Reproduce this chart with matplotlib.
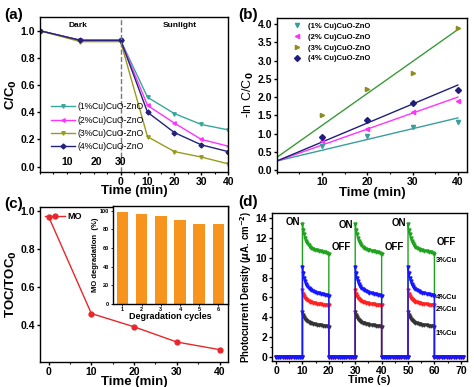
import numpy as np
import matplotlib
matplotlib.use('Agg')
import matplotlib.pyplot as plt

plt.rcParams['font.family'] = ['Liberation Sans', 'DejaVu Sans']
plt.rcParams['font.weight'] = 'bold'
plt.rcParams['axes.labelweight'] = 'bold'
plt.rcParams['axes.linewidth'] = 1.0

# ---- (a) C/C0 vs time ----
a_time_dark = [-30, -15, 0]
a_time_sun = [0, 10, 20, 30, 40]
a_labels = ['(1%Cu)CuO-ZnO', '(2%Cu)CuO-ZnO', '(3%Cu)CuO-ZnO', '(4%Cu)CuO-ZnO']
a_dark = [[1.0, 0.93, 0.93], [1.0, 0.93, 0.93], [1.0, 0.92, 0.92], [1.0, 0.93, 0.93]]
a_sun = [[0.93, 0.51, 0.39, 0.31, 0.27],
         [0.93, 0.45, 0.32, 0.20, 0.15],
         [0.92, 0.22, 0.11, 0.07, 0.02],
         [0.93, 0.40, 0.25, 0.16, 0.11]]
a_colors = ['#36a89c', '#ff33ff', '#9a9a1e', '#22227a']
a_markers = ['v', '<', 'v', 'D']

# ---- (b) -ln(C/C0) kinetics ----
b_time = [10, 20, 30, 40]
b_labels = ['(1% Cu)CuO-ZnO', '(2% Cu)CuO-ZnO', '(3% Cu)CuO-ZnO', '(4% Cu)CuO-ZnO']
b_vals = [[0.67, 0.93, 1.17, 1.31],
          [0.79, 1.13, 1.60, 1.89],
          [1.51, 2.21, 2.66, 3.90],
          [0.92, 1.38, 1.83, 2.20]]
b_fit_x = [0, 40]
b_fit_y = [[0.25, 1.43], [0.25, 2.00], [0.35, 3.85], [0.25, 2.33]]
b_mcolors = ['#3a9e9e', '#ff33ff', '#8c8c1e', '#1f1f7a']
b_lcolors = ['#3a9e9e', '#ff33ff', '#3a9a3a', '#1f1f7a']
b_markers = ['v', '<', '>', 'D']

# ---- (c) TOC and recycling inset ----
c_time = [0, 10, 20, 30, 40]
c_toc = [0.97, 0.46, 0.39, 0.31, 0.27]
c_cycles = [1, 2, 3, 4, 5, 6]
c_degr = [99, 96, 94, 90, 86, 86]

# ---- (d) photocurrent ----
d_labels = ['3%Cu', '4%Cu', '2%Cu', '1%Cu']
d_colors = ['#1fa31f', '#1515ff', '#ff2020', '#333333']
d_on_offsets = [0, 0.3, 0.6, 1.0, 1.4, 1.8, 2.3, 2.8, 3.4, 4.0, 4.7, 5.4, 6.2, 7.0, 7.8, 8.6, 9.4, 10.0]
d_on = [
    [13.4, 12.8, 12.4, 12.0, 11.7, 11.5, 11.3, 11.1, 11.0, 10.9, 10.8, 10.75, 10.7, 10.65, 10.6, 10.55, 10.5, 10.4],
    [9.1, 8.5, 8.0, 7.6, 7.3, 7.1, 6.9, 6.8, 6.7, 6.6, 6.5, 6.45, 6.4, 6.35, 6.3, 6.25, 6.2, 6.1],
    [6.7, 6.3, 6.1, 5.9, 5.8, 5.7, 5.6, 5.55, 5.5, 5.45, 5.4, 5.37, 5.34, 5.3, 5.28, 5.26, 5.23, 5.2],
    [4.5, 4.2, 4.0, 3.85, 3.7, 3.6, 3.5, 3.45, 3.4, 3.35, 3.3, 3.27, 3.24, 3.2, 3.17, 3.14, 3.1, 3.05],
]
d_on_starts = [10, 30, 50]
d_off_spans = [(0, 10), (20, 30), (40, 50), (60, 71)]

fig = plt.figure(figsize=(4.74, 3.87), dpi=100)

tick_fs = 7.5
lab_fs = 9.5

def style(ax):
    ax.tick_params(labelsize=tick_fs, width=1.0, length=2.5, pad=1)
    ax.tick_params(which='minor', length=1.5, width=0.8)
    for t in ax.get_xticklabels() + ax.get_yticklabels():
        t.set_fontweight('bold')

# (a)
ax = fig.add_axes([0.0844, 0.5556, 0.397, 0.400])
for i in range(4):
    ax.plot(a_time_dark, a_dark[i], color=a_colors[i], marker=a_markers[i], ms=2.5, lw=1.0)
    ax.plot(a_time_sun, a_sun[i], color=a_colors[i], marker=a_markers[i], ms=2.5, lw=1.0,
            label=a_labels[i])
ax.axvline(0, color='#777777', ls='--', lw=1.0)
ax.set_xlim(-30, 40)
ax.set_ylim(-0.04, 1.1)
ax.set_xticks([0, 10, 20, 30, 40])
ax.set_xticks(np.arange(-30, 41, 5), minor=True)
ax.set_yticks([0.0, 0.2, 0.4, 0.6, 0.8, 1.0])
ax.set_yticklabels(['0.0', '0.2', '0.4', '0.6', '0.8', '1.0'])
ax.set_xlabel('Time (min)', fontsize=lab_fs, labelpad=-1)
ax.set_ylabel('C/C$_\\mathbf{0}$', fontsize=lab_fs, labelpad=1)
style(ax)
ax.legend(loc='lower left', bbox_to_anchor=(0.03, 0.1), frameon=False,
          prop={'size': 6.2, 'weight': 'normal'}, handlelength=2.8, handletextpad=0.3,
          labelspacing=0.5, borderaxespad=0.2)
for xv, s in zip([-20, -9, 0], ['10', '20', '30']):
    ax.text(xv, 0.035, s, ha='center', va='center', fontsize=tick_fs, fontweight='bold')
ax.text(-16, 1.04, 'Dark', ha='center', va='center', fontsize=6, fontweight='bold')
ax.text(22, 1.04, 'Sunlight', ha='center', va='center', fontsize=6, fontweight='bold')

# (b)
ax = fig.add_axes([0.584, 0.5556, 0.401, 0.3974])
for i in range(4):
    ax.plot(b_fit_x, b_fit_y[i], color=b_lcolors[i], lw=1.0)
for i in range(4):
    ax.plot(b_time, b_vals[i], ls='none', marker=b_markers[i], ms=3,
            color=b_mcolors[i], label=b_labels[i])
ax.set_xlim(0, 42)
ax.set_ylim(-0.05, 4.16)
ax.set_xticks([10, 20, 30, 40])
ax.set_xticks(np.arange(0, 42, 5), minor=True)
ax.set_yticks(np.arange(0, 4.01, 0.5))
ax.set_yticklabels(['%.1f' % v for v in np.arange(0, 4.01, 0.5)])
ax.set_xlabel('Time (min)', fontsize=lab_fs, labelpad=0)
ax.set_ylabel('-ln C/C$_0$', fontsize=lab_fs - 0.5, labelpad=1, fontweight='normal')
style(ax)
ax.legend(loc='upper left', frameon=False, prop={'size': 5.5, 'weight': 'bold'},
          handlelength=1.5, handletextpad=0.8, labelspacing=0.45,
          borderaxespad=0.2, bbox_to_anchor=(0.05, 1.0))

# (c)
ax = fig.add_axes([0.0844, 0.0646, 0.397, 0.4005])
ax.plot(c_time, c_toc, color='#e8272b', marker='o', ms=3.5, lw=1.0, label='MO')
ax.set_xlim(-2, 42)
ax.set_ylim(0.205, 1.02)
ax.set_xticks([0, 10, 20, 30, 40])
ax.set_xticks(np.arange(0, 41, 5), minor=True)
ax.set_yticks([0.4, 0.6, 0.8, 1.0])
ax.set_yticklabels(['0.4', '0.6', '0.8', '1.0'])
ax.set_xlabel('Time (min)', fontsize=lab_fs, labelpad=-0.5)
ax.set_ylabel('TOC/TOC$_\\mathbf{0}$', fontsize=lab_fs, labelpad=1)
style(ax)
ax.legend(loc='upper left', frameon=False, prop={'size': 6.5, 'weight': 'bold'},
          handlelength=2.2, handletextpad=0.3, borderaxespad=0.15)

ins = fig.add_axes([0.238, 0.2145, 0.243, 0.2532])
ins.bar(c_cycles, c_degr, width=0.6, color='#f7941d')
ins.set_xlim(0.5, 6.5)
ins.set_ylim(0, 105)
ins.set_xticks(c_cycles)
ins.set_yticks([0, 20, 40, 60, 80, 100])
ins.tick_params(labelsize=4, length=1.5, width=0.6, pad=1)
ins.set_xlabel('Degradation cycles', fontsize=6.5, labelpad=0)
ins.set_ylabel('MO degradation  (%)', fontsize=5.5, labelpad=1)

# (d)
ax = fig.add_axes([0.574, 0.067, 0.411, 0.383])
order = [0, 3, 2, 1]
for i in order:
    ts, ys = [], []
    for k, (t0, t1) in enumerate(d_off_spans):
        tt = np.linspace(t0, t1, 13)
        ts += list(tt)
        ys += [0.0] * len(tt)
        if k < len(d_on_starts):
            s = d_on_starts[k]
            ts += [s + o for o in d_on_offsets]
            ys += d_on[i]
    ax.plot(ts, ys, color=d_colors[i], marker='v', ms=2.2, lw=1.0, zorder=3 + (i == 1))
ax.set_xlim(-1.5, 72.3)
ax.set_ylim(-0.4, 14.5)
ax.set_xticks(np.arange(0, 71, 10))
ax.set_xticks(np.arange(0, 71, 5), minor=True)
ax.set_yticks(np.arange(0, 15, 2))
ax.set_yticks(np.arange(0, 15, 1), minor=True)
ax.set_xlabel('Time (s)', fontsize=8, labelpad=-0.5)
ax.set_ylabel('Photocurrent Density ($\\mu$A. cm$^{-2}$)', fontsize=6.9, labelpad=1)
style(ax)
for x0, y0 in [(9.3, 13.6), (29.3, 13.3), (49.3, 13.5)]:
    ax.text(x0, y0, 'ON', ha='right', va='center', fontsize=7, fontweight='bold')
for x0, y0 in [(21, 11.1), (41, 11.1), (61, 11.6)]:
    ax.text(x0, y0, 'OFF', ha='left', va='center', fontsize=7, fontweight='bold')
for s, y0 in zip(d_labels, [9.7, 6.0, 4.8, 2.4]):
    ax.text(60.6, y0, s, ha='left', va='center', fontsize=5.5, fontweight='bold')

# panel letters
fig.text(0.008, 0.962, '(a)', fontsize=11, fontweight='bold', va='center')
fig.text(0.503, 0.962, '(b)', fontsize=11, fontweight='bold', va='center')
fig.text(0.008, 0.472, '(c)', fontsize=11, fontweight='bold', va='center')
fig.text(0.503, 0.478, '(d)', fontsize=11, fontweight='bold', va='center')

fig.savefig('out.png', dpi=100)
